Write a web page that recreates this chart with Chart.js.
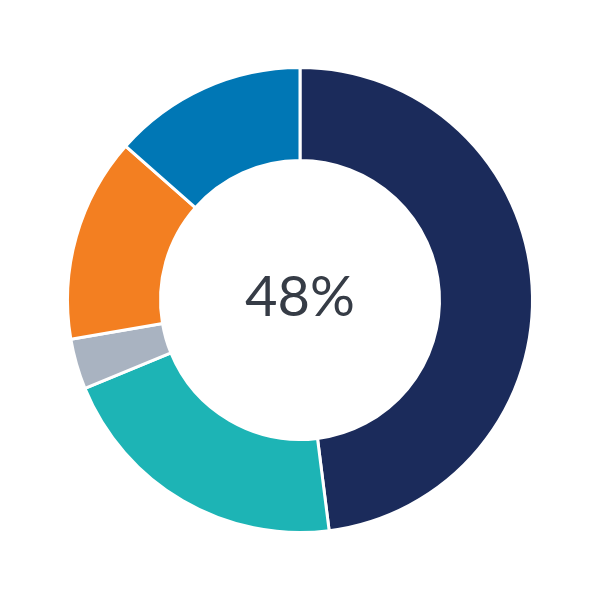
<!DOCTYPE html>
<html>
<head>
<meta charset="utf-8">
<script src="https://cdn.jsdelivr.net/npm/chart.js@4/dist/chart.umd.min.js"></script>
<style>
  html, body { margin: 0; padding: 0; background: #ffffff; }
  #wrap { width: 600px; height: 600px; }
</style>
</head>
<body>
<div id="wrap"><canvas id="donut" width="600" height="600"></canvas></div>
<script>
// segment values, clockwise from 12 o'clock
const labels = ['Navy', 'Teal', 'Gray', 'Orange', 'Blue'];
const values = [48, 20.8, 3.5, 14.2, 13.5];
const colors = ['#1b2b5b', '#1db4b5', '#a9b3c1', '#f37f21', '#0077b5'];
const centerText = '48%';

// draws the big percentage in the hole
const centerLabel = {
    id: 'centerLabel',
    afterDraw(chart) {
        const ctx = chart.ctx;
        const meta = chart.getDatasetMeta(0).data[0];
        ctx.save();
        ctx.font = '400 56px Lato, "Open Sans", sans-serif';
        ctx.fillStyle = '#363c46';
        ctx.textAlign = 'center';
        ctx.textBaseline = 'middle';
        ctx.fillText(centerText, meta.x, meta.y - 2);
        ctx.restore();
    }
};

new Chart(document.getElementById('donut'), {
    type: 'doughnut',
    data: {
        labels: labels,
        datasets: [{
            data: values,
            backgroundColor: colors,
            borderColor: '#ffffff',
            borderWidth: 3
        }]
    },
    options: {
        responsive: false,
        animation: false,
        cutout: '60%',
        layout: { padding: 66 },
        plugins: {
            legend: { display: false },
            tooltip: { enabled: false }
        }
    },
    plugins: [centerLabel]
});
</script>
</body>
</html>
